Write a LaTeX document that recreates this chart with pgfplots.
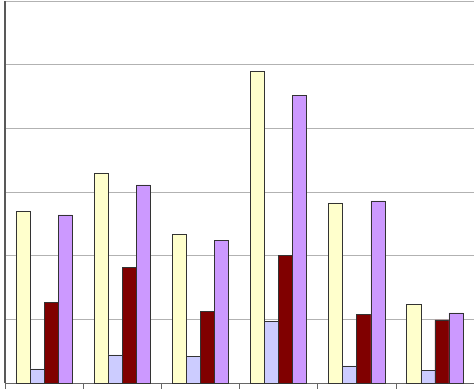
\documentclass[border=0pt]{standalone}
\usepackage{pgfplots}
\pgfplotsset{compat=1.18}
\definecolor{cyel}{HTML}{FFFFCC}
\definecolor{cblue}{HTML}{CCCCFF}
\definecolor{cred}{HTML}{800000}
\definecolor{cpur}{HTML}{CC99FF}
\begin{document}
\begin{tikzpicture}
\begin{axis}[
  scale only axis, width=469bp, height=382bp,
  ybar=0pt, bar width=0.18,
  xmin=-0.5, xmax=5.5, ymin=0, ymax=60,
  xtick={-0.5,0.5,1.5,2.5,3.5,4.5,5.5}, xticklabels={},
  ytick={0,10,20,30,40,50,60}, yticklabels={},
  ymajorgrids, grid style={color=black!30, line width=0.8pt},
  axis x line*=bottom, axis y line*=left,
  x axis line style={color=black!60, line width=0.8pt},
  y axis line style={color=black!65, line width=1.2pt},
  major tick length=6bp,
  xtick style={color=black!60, line width=0.6pt},
  x tick style={/pgfplots/tick align=outside},
  ytick style={draw=none},
  clip=false,
]
\addplot[fill=cyel, draw=black!80, line width=0.6pt] coordinates {(0,27.0) (1,33.0) (2,23.4) (3,49.0) (4,28.3) (5,12.4)};
\addplot[fill=cblue, draw=black!80, line width=0.6pt] coordinates {(0,2.2) (1,4.4) (2,4.2) (3,9.7) (4,2.7) (5,2.0)};
\addplot[fill=cred, draw=black!80, line width=0.6pt] coordinates {(0,12.7) (1,18.1) (2,11.3) (3,20.1) (4,10.8) (5,9.9)};
\addplot[fill=cpur, draw=black!80, line width=0.6pt] coordinates {(0,26.4) (1,31.1) (2,22.4) (3,45.2) (4,28.6) (5,11.0)};
\coordinate (sw) at (rel axis cs:0,0);
\coordinate (ne) at (rel axis cs:1,1);
\end{axis}
\pgfresetboundingbox
\path ([shift={(-5bp,-6bp)}]sw) rectangle ([shift={(0bp,1bp)}]ne);
\end{tikzpicture}
\end{document}
